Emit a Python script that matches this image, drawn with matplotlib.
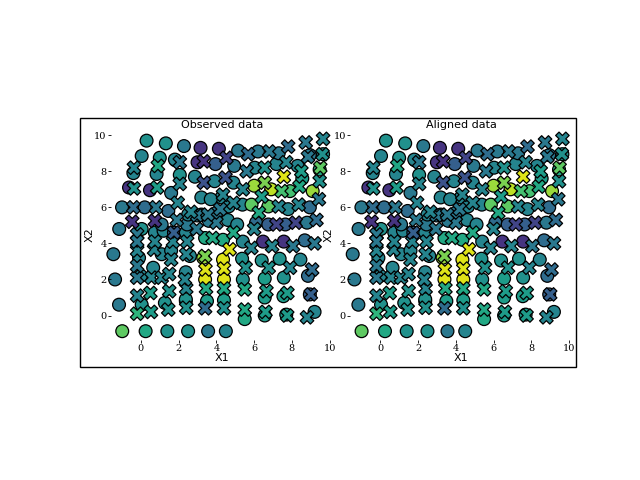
import matplotlib.pyplot as plt
from matplotlib.patches import Rectangle

# circles: x, y, colour value
circ_x = [-0.99, 0.25, 1.4, 2.5, 3.56, 4.5,
          0.04, 1.27, 2.38, 3.5, 4.4, 5.5, 6.56, 7.7, 9.2, -1.16,
          2.38, 6.56, 7.55, 8.95,
          -1.37, 0.0, 2.38, 3.4, 4.4, 5.4, 6.56, 7.57, 8.85, 0.65,
          -1.46, -0.1, 1.1, 1.6, 2.6, 3.3, 4.35, 5.36, 6.4, 7.35, 8.45,
          -1.15, 0.74, 1.2, 1.75, 2.38, 3.4, 4.35, 5.4, 6.47, 7.57, 8.68,
          0.04, 1.1, 2.45, 2.98, 3.6, 4.6, 5.1, 6.1, 6.75, 7.65, 8.8,
          -1.0, 0.2, 1.45, 2.5, 3.2, 4.0, 4.27, 4.65, 5.38, 5.86, 6.75, 7.8, 8.95,
          -0.63, 0.48, 1.6, 2.06, 2.86, 3.2, 3.7, 3.9, 4.9, 6.0, 6.9, 7.9, 9.1, 8.55,
          -0.4, 0.83, 1.85, 3.0, 3.95, 4.94, 6.03, 7.18, 8.3, 8.95, 9.47, 9.65,
          0.3, 1.32, 2.28, 3.16, 4.13, 5.15, 6.2, 7.3, 0.04, 1.0, 1.8]
circ_y = [-0.87, -0.87, -0.87, -0.87, -0.87, -0.87,
          0.6, 0.7, 0.8, 0.8, 0.85, -0.2, 0.0, 0.05, 0.2, 0.6,
          0.9, 1.0, 1.07, 1.17,
          2.0, 2.2, 2.4, 2.0, 2.0, 2.0, 2.05, 2.1, 2.2, 2.65,
          3.4, 3.2, 3.4, 3.6, 3.3, 3.2, 3.1, 3.15, 3.05, 3.15, 3.1,
          4.8, 4.6, 4.7, 4.6, 4.6, 4.3, 4.2, 4.1, 4.1, 4.1, 4.17,
          4.8, 5.05, 5.05, 5.55, 5.25, 5.3, 5.05, 5.15, 5.05, 5.05, 5.15,
          6.0, 6.0, 5.8, 5.6, 5.6, 5.7, 6.55, 6.05, 6.15, 6.15, 6.05, 5.9, 6.0,
          7.1, 6.95, 6.8, 7.8, 7.7, 6.55, 6.45, 7.45, 7.37, 7.2, 7.0, 6.9, 6.9, 7.6,
          7.9, 7.85, 8.6, 8.5, 8.4, 8.3, 8.2, 8.4, 8.3, 8.9, 8.1, 8.95,
          9.7, 9.55, 9.4, 9.3, 9.25, 9.15, 9.1, 9.0, 8.85, 8.75, 8.65]
circ_c = [0.75, 0.6, 0.5, 0.5, 0.4, 0.45,
          0.5, 0.5, 0.5, 0.55, 0.55, 0.6, 0.55, 0.55, 0.45, 0.4,
          0.5, 0.55, 0.55, 0.3,
          0.4, 0.45, 0.45, 0.95, 0.95, 0.5, 0.55, 0.5, 0.35, 0.45,
          0.4, 0.45, 0.45, 0.45, 0.45, 0.85, 0.95, 0.5, 0.5, 0.5, 0.45,
          0.4, 0.45, 0.45, 0.3, 0.45, 0.6, 0.6, 0.45, 0.15, 0.15, 0.35,
          0.5, 0.4, 0.4, 0.4, 0.4, 0.45, 0.45, 0.35, 0.3, 0.3, 0.4,
          0.4, 0.35, 0.35, 0.45, 0.45, 0.4, 0.45, 0.45, 0.45, 0.75, 0.75, 0.45, 0.35,
          0.15, 0.15, 0.4, 0.5, 0.45, 0.45, 0.45, 0.45, 0.45, 0.85, 0.9, 0.7, 0.85, 0.55,
          0.45, 0.45, 0.45, 0.15, 0.3, 0.4, 0.45, 0.45, 0.45, 0.4, 0.6, 0.5,
          0.5, 0.5, 0.4, 0.15, 0.15, 0.4, 0.4, 0.4, 0.45, 0.5, 0.45]

# crosses: x, y, colour value
cross_x = [-0.2, 0.53, 1.45, 2.4, 3.4, 4.4, 5.5, 6.6, 7.75, 8.8,
           -0.2, 0.5, 1.5, 2.4, 3.45, 4.4, 5.5, 6.65, 7.76, 9.0,
           -0.2, 0.56, 1.1, 1.5, 2.33, 3.42, 4.4, 5.55, 6.77, 7.9, 9.07,
           -0.2, -0.2, 0.7, 1.6, 2.4, 3.4, 4.7,
           -0.2, -0.2, 0.74, 1.7, 1.75, 2.45, 2.95, 3.8, 4.9, 5.85, 6.95, 8.06, 9.2,
           -0.46, 0.74, 1.9, 2.98, 4.0, 6.0, 7.18, 8.2, 9.3,
           -0.4, 0.8, 1.95, 2.65, 3.55, 4.2, 4.35, 4.9, 6.25, 7.3, 8.36, 9.43,
           -0.37, 0.86, 2.06, 3.33, 4.48, 5.4, 6.4, 6.56, 7.45, 8.4, 9.47, 7.57,
           -0.37, 0.9, 2.06, 3.33, 4.53, 5.6, 6.56, 7.7, 8.5, 8.85, 9.5, 9.62,
           5.68, 6.8, 7.8, 8.73, 9.65]
cross_y = [0.1, 0.2, 0.33, 0.43, 0.4, 0.4, 0.33, 0.2, 0.0, -0.1,
           1.1, 1.25, 1.35, 1.5, 1.5, 1.5, 1.45, 1.35, 1.25, 1.17,
           2.1, 2.1, 2.1, 2.3, 2.0, 2.55, 2.6, 2.65, 2.65, 2.65, 2.55,
           3.6, 2.75, 3.65, 3.1, 3.4, 3.3, 3.67,
           4.5, 4.1, 4.1, 4.1, 4.6, 4.1, 4.8, 4.3, 4.6, 3.75, 3.85, 3.85, 4.0,
           5.2, 5.25, 5.3, 5.55, 5.15, 4.8, 5.05, 5.15, 5.3,
           6.0, 6.0, 6.25, 5.75, 5.6, 5.9, 6.7, 6.25, 5.7, 6.05, 6.15, 6.45,
           7.05, 7.1, 7.3, 7.37, 7.65, 7.0, 6.6, 7.37, 6.9, 7.15, 7.45, 7.7,
           8.2, 8.3, 8.5, 8.55, 8.75, 8.0, 8.2, 8.5, 8.0, 8.8, 8.2, 8.95,
           8.95, 9.1, 9.37, 9.6, 9.8]
cross_c = [0.65, 0.55, 0.5, 0.5, 0.35, 0.5, 0.6, 0.55, 0.55, 0.45,
           0.45, 0.55, 0.5, 0.45, 0.6, 0.6, 0.6, 0.55, 0.55, 0.3,
           0.4, 0.45, 0.45, 0.45, 0.45, 0.95, 0.95, 0.5, 0.5, 0.45, 0.35,
           0.45, 0.4, 0.45, 0.45, 0.45, 0.8, 0.95,
           0.4, 0.4, 0.45, 0.45, 0.3, 0.45, 0.4, 0.6, 0.6, 0.45, 0.45, 0.4, 0.4,
           0.15, 0.15, 0.4, 0.4, 0.4, 0.45, 0.2, 0.2, 0.35,
           0.35, 0.4, 0.45, 0.45, 0.4, 0.4, 0.45, 0.45, 0.6, 0.45, 0.45, 0.4,
           0.5, 0.55, 0.45, 0.25, 0.25, 0.45, 0.55, 0.8, 0.7, 0.6, 0.5, 0.95,
           0.45, 0.6, 0.4, 0.15, 0.2, 0.4, 0.5, 0.45, 0.55, 0.4, 0.75, 0.5,
           0.35, 0.4, 0.35, 0.4, 0.45]

titles = ["Observed data", "Aligned data"]
ticks = [0, 2, 4, 6, 8, 10]

fig = plt.figure(figsize=(6.4, 4.8), dpi=100)
fig.patches.append(Rectangle((0.125, 0.235), 0.775, 0.519, transform=fig.transFigure,
                             fill=False, edgecolor='black', linewidth=1))

for i, title in enumerate(titles):
    ax = fig.add_axes([0.173 + i * 0.374, 0.292, 0.348, 0.4375])
    ax.scatter(circ_x, circ_y, c=circ_c, cmap='viridis', vmin=0, vmax=1,
               marker='o', s=85, edgecolors='black', linewidths=0.9, clip_on=False)
    ax.scatter(cross_x, cross_y, c=cross_c, cmap='viridis', vmin=0, vmax=1,
               marker='X', s=95, edgecolors='black', linewidths=0.9, clip_on=False)
    ax.set_xlim(-1.6, 10.2)
    ax.set_ylim(-1.35, 10.3)
    for s in ax.spines.values():
        s.set_visible(False)
    ax.set_xticks(ticks)
    ax.set_yticks(ticks)
    ax.tick_params(labelsize=7, length=2, width=0.6, pad=1)
    for lab in ax.get_xticklabels() + ax.get_yticklabels():
        lab.set_fontfamily('DejaVu Serif')
    ax.set_xlabel("X1", fontsize=8, labelpad=0)
    ax.set_ylabel("X2", fontsize=8, labelpad=0)
    ax.set_title(title, fontsize=8, pad=0)

fig.savefig("out.png")
